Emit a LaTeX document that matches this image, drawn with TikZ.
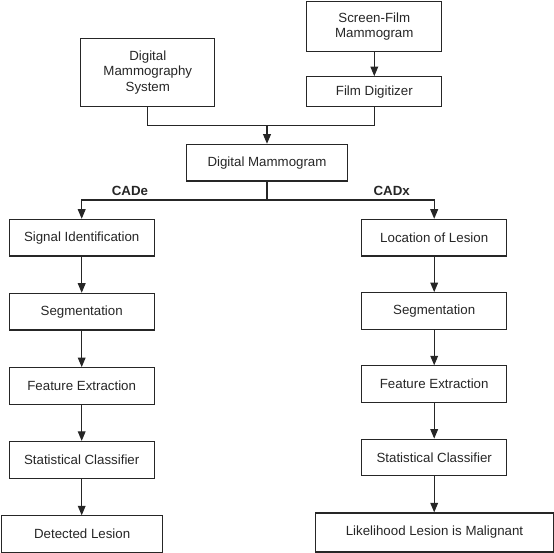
\documentclass[tikz,border=0pt]{standalone}
\usepackage{fontspec}
\setmainfont{Liberation Sans}
\usepackage{tikz}
\usetikzlibrary{arrows}
\begin{document}
\begin{tikzpicture}[x=1pt,y=-1pt,line width=1.2pt,black!85,
        font=\fontsize{13.3}{15.8}\selectfont,
        boite/.style={draw,align=center,inner sep=0pt,minimum height=36.7pt},
        col/.style={boite,minimum width=145pt}]
        \useasboundingbox (0,0) rectangle (554,553);
        \node[boite,minimum width=135pt,minimum height=50pt] (SFM) at (374.3,26.5) {Screen-Film\\Mammogram};
        \node[boite,minimum width=135pt,minimum height=30pt] (FD) at (374.3,91.7) {Film Digitizer};
        \node[boite,minimum width=134pt,minimum height=68pt] (DMS) at (147.8,72.5) {Digital\\Mammography\\System};
        \node[boite,minimum width=160.6pt] (DM) at (267,162.7) {Digital Mammogram};
        \node[col] (SI) at (81.7,237.7) {Signal Identification};
        \node[col] (SGe) at (81.7,311.7) {Segmentation};
        \node[col] (FEe) at (81.7,386) {Feature Extraction};
        \node[col] (SCe) at (81.7,459.8) {Statistical Classifier};
        \node[boite,minimum width=161pt] (DL) at (82.2,534.2) {Detected Lesion};
        \node[col] (LL) at (434.2,237.7) {Location of Lesion};
        \node[col] (SGx) at (434.2,311) {Segmentation};
        \node[col] (FEx) at (434.2,384.2) {Feature Extraction};
        \node[col] (SCx) at (434.2,457.5) {Statistical Classifier};
        \node[boite,minimum width=237.6pt,minimum height=39pt] (LLM) at (434.5,532.4) {Likelihood Lesion is Malignant};
        \node[font=\fontsize{13.3}{15.8}\selectfont\bfseries] (CADe) at (130,190.7) {CADe};
        \node[font=\fontsize{13.3}{15.8}\selectfont\bfseries] (CADx) at (391.7,190.7) {CADx};
        \coordinate (J) at (267,125.7);
        \coordinate (B) at (267,200);
        \tikzset{fleche/.style={->,>=triangle 45}}
        \draw[fleche] (SFM) -- (FD);
        \draw (DMS) |- (J);
        \draw (FD) |- (J);
        \draw[fleche] (J) -- (DM);
        \draw (DM) -- (B);
        \draw[fleche] (B) -| (SI);
        \draw[fleche] (B) -| (LL);
        \draw[fleche] (SI) -- (SGe);
        \draw[fleche] (SGe) -- (FEe);
        \draw[fleche] (FEe) -- (SCe);
        \draw[fleche] (SCe) -- (SCe |- DL.north);
        \draw[fleche] (LL) -- (SGx);
        \draw[fleche] (SGx) -- (FEx);
        \draw[fleche] (FEx) -- (SCx);
        \draw[fleche] (SCx) -- (SCx |- LLM.north);
\end{tikzpicture}
\end{document}
